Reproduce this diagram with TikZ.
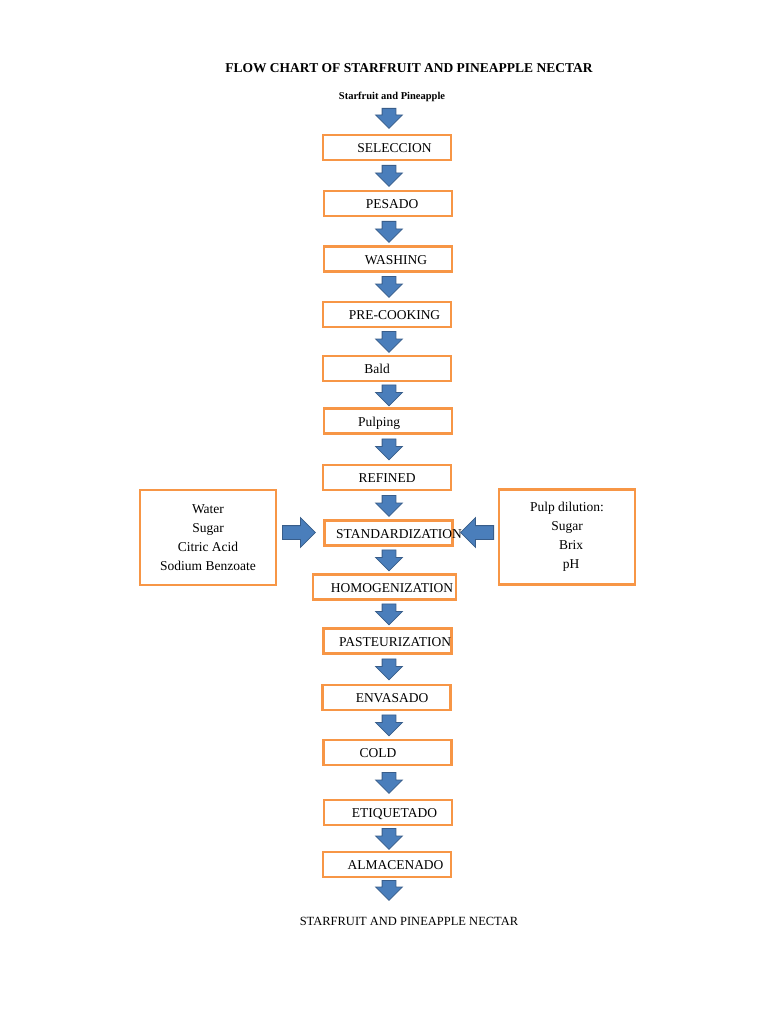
\documentclass[tikz,border=0pt]{standalone}
\usepackage{fontspec}
\setmainfont{Liberation Serif}
\usetikzlibrary{shapes.arrows}

\definecolor{boxorange}{HTML}{F79646}
\definecolor{arrowblue}{HTML}{4A7EBB}
\definecolor{arrowline}{HTML}{385D8A}

\tikzset{
  stage/.style={draw=boxorange, line width=2.4pt, fill=white, minimum width=128pt, minimum height=25pt, inner sep=0pt},
  sidebox/.style={draw=boxorange, line width=2.4pt, fill=white, minimum width=136pt, minimum height=95pt, align=center, inner sep=0pt,
    font=\fontsize{13.5}{19}\selectfont},
  lbl/.style={inner sep=0pt, anchor=base, font=\fontsize{13.5}{16}\selectfont},
  darrow/.style={single arrow, draw=arrowline, fill=arrowblue, line width=0.8pt, rotate=-90, anchor=tail,
    minimum height=21pt, single arrow head extend=6.5pt, inner xsep=0pt, inner ysep=6.5pt},
  harrow/.style={single arrow, draw=arrowline, fill=arrowblue, line width=0.8pt, anchor=tail,
    minimum height=33pt, single arrow head extend=8pt, inner xsep=0pt, inner ysep=6.5pt}
}

\begin{document}
\begin{tikzpicture}[x=1pt, y=-1pt]
  \useasboundingbox (0,0) rectangle (768,1024);

  % Title and input
  \node[inner sep=0pt, font=\fontsize{13.5}{16}\selectfont\bfseries] (title) at (409,68) {FLOW CHART OF STARFRUIT AND PINEAPPLE NECTAR};
  \node[inner sep=0pt, font=\fontsize{10.5}{12}\selectfont\bfseries] (input) at (392,97) {Starfruit and Pineapple};

  % Process boxes
  \node[stage] (sel) at (387,147.5) {};
  \node[lbl] (sel-t) at (394.5,152.5) {SELECCION};
  \node[stage] (pes) at (388,203.5) {};
  \node[lbl] (pes-t) at (392,208.5) {PESADO};
  \node[stage] (was) at (388,259) {};
  \node[lbl] (was-t) at (396,264) {WASHING};
  \node[stage] (pre) at (387,314.5) {};
  \node[lbl] (pre-t) at (394.5,319.5) {PRE-COOKING};
  \node[stage] (bal) at (387,368.5) {};
  \node[lbl] (bal-t) at (377,373.5) {Bald};
  \node[stage] (pul) at (388,421) {};
  \node[lbl] (pul-t) at (379,426) {Pulping};
  \node[stage] (ref) at (387,477.5) {};
  \node[lbl] (ref-t) at (387,482.5) {REFINED};
  \node[stage] (sta) at (388.5,533) {};
  \node[lbl] (sta-t) at (399,538) {STANDARDIZATION};
  \node[stage, minimum width=143pt] (hom) at (384.5,587) {};
  \node[lbl] (hom-t) at (392,592) {HOMOGENIZATION};
  \node[stage] (pas) at (387.5,641) {};
  \node[lbl] (pas-t) at (395,646) {PASTEURIZATION};
  \node[stage] (env) at (386.5,697.5) {};
  \node[lbl] (env-t) at (392,702.5) {ENVASADO};
  \node[stage] (col) at (387.5,752.5) {};
  \node[lbl] (col-t) at (378,757.5) {COLD};
  \node[stage] (eti) at (388,812.5) {};
  \node[lbl] (eti-t) at (394.5,817.5) {ETIQUETADO};
  \node[stage] (alm) at (387,864.5) {};
  \node[lbl] (alm-t) at (395.5,869.5) {ALMACENADO};

  % Side inputs
  \node[sidebox] (add) at (208,537.5) {Water\\Sugar\\Citric Acid\\Sodium Benzoate};
  \node[sidebox] (dil) at (567,537) {Pulp dilution:\\Sugar\\\hspace*{8pt}Brix\\\hspace*{8pt}pH};

  % Product
  \node[inner sep=0pt, font=\fontsize{12.5}{15}\selectfont] (out) at (409,921) {STARFRUIT AND PINEAPPLE NECTAR};

  % Block arrows (placed by their tails)
  \node[darrow, minimum height=20pt] (a0) at (389,108) {};
  \node[darrow] (a1) at (389,165) {};
  \node[darrow] (a2) at (389,221) {};
  \node[darrow] (a3) at (389,276) {};
  \node[darrow] (a4) at (389,331) {};
  \node[darrow] (a5) at (389,384.5) {};
  \node[darrow] (a6) at (389,438.5) {};
  \node[darrow] (a7) at (389,495) {};
  \node[darrow] (a8) at (389,549.5) {};
  \node[darrow] (a9) at (389,603.5) {};
  \node[darrow] (a10) at (389,658.5) {};
  \node[darrow] (a11) at (389,714.5) {};
  \node[darrow] (a12) at (389,772) {};
  \node[darrow] (a13) at (389,828) {};
  \node[darrow, minimum height=20pt] (a14) at (389,880) {};
  \node[harrow] (al) at (282,532.5) {};
  \node[harrow, rotate=180] (ar) at (494,532.5) {};
\end{tikzpicture}
\end{document}
